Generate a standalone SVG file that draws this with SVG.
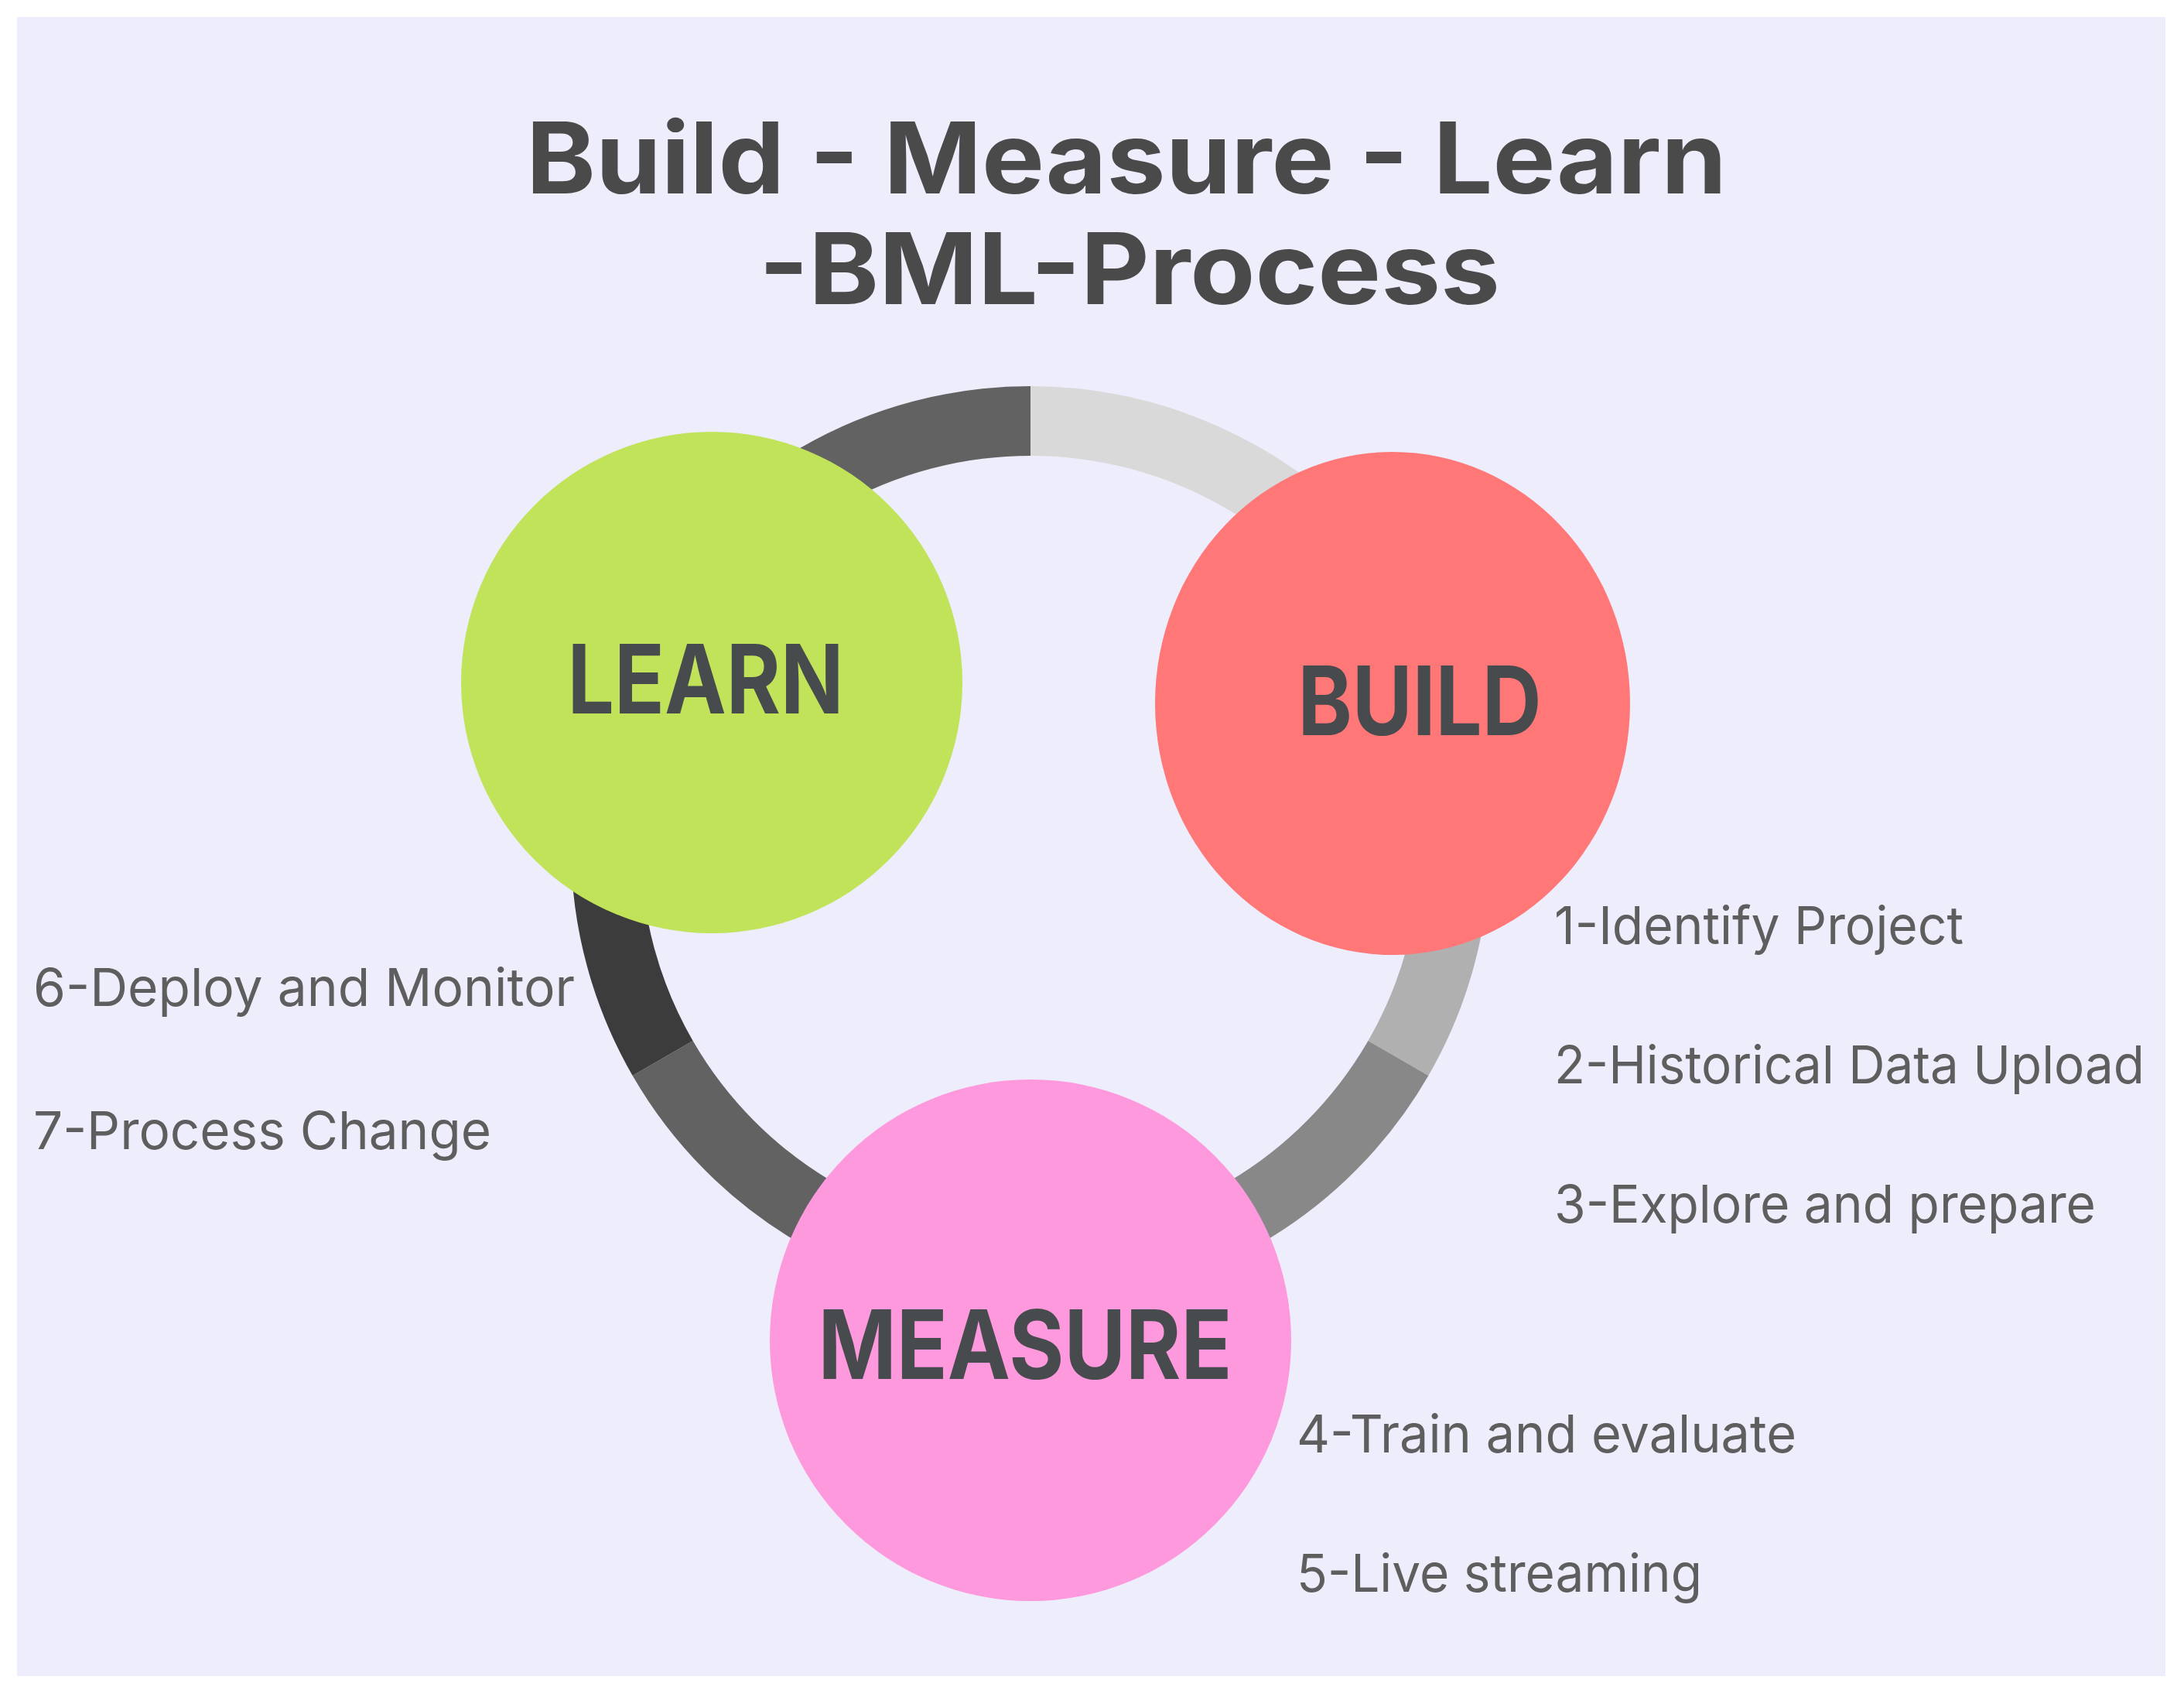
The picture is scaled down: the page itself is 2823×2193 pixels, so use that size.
<svg xmlns="http://www.w3.org/2000/svg" width="2823" height="2193" viewBox="0 0 2823 2193">
<style>
.t{font-family:Inter,"Noto Sans","Liberation Sans",sans-serif;font-weight:700;fill:#4a4a4a}
.n{font-family:Inter,"Noto Sans","Liberation Sans",sans-serif;font-weight:700;fill:#474b4e;text-anchor:middle;font-size:124px}
.l{font-family:Inter,"Noto Sans","Liberation Sans",sans-serif;font-weight:400;fill:#5e5e5e;font-size:68px}
.seg{fill:none;stroke-width:90}
</style>
<rect width="2823" height="2193" fill="#ffffff"/>
<rect x="22" y="22" width="2777" height="2144" fill="#eeedfc"/>
<text class="t" x="1456" y="250" text-anchor="middle" font-size="128" textLength="1552" lengthAdjust="spacingAndGlyphs">Build - Measure - Learn</text>
<text class="t" x="1460" y="393" text-anchor="middle" font-size="128" textLength="958" lengthAdjust="spacingAndGlyphs">-BML-Process</text>
<g id="connectors">
<path class="seg" stroke="#d9d9d9" d="M1332 544 A549 549 0 0 1 1807.4 818.5"/>
<path class="seg" stroke="#b0b0b0" d="M1807.4 818.5 A549 549 0 0 1 1807.4 1367.5"/>
<path class="seg" stroke="#888888" d="M1807.4 1367.5 A549 549 0 0 1 1332 1642"/>
<path class="seg" stroke="#626262" d="M1332 1642 A549 549 0 0 1 856.6 1367.5"/>
<path class="seg" stroke="#3c3c3c" d="M856.6 1367.5 A549 549 0 0 1 856.6 818.5"/>
<path class="seg" stroke="#626262" d="M856.6 818.5 A549 549 0 0 1 1332 544"/>
</g>
<g id="learn">
<circle cx="920" cy="882" r="324" fill="#c0e35a"/>
<text class="n" x="912" y="922" textLength="357" lengthAdjust="spacingAndGlyphs">LEARN</text>
</g>
<g id="build">
<ellipse cx="1800" cy="909" rx="307" ry="325" fill="#ff7777"/>
<text class="n" x="1835" y="950" textLength="315" lengthAdjust="spacingAndGlyphs">BUILD</text>
</g>
<g id="measure">
<circle cx="1332" cy="1732" r="337" fill="#fd99dc"/>
<text class="n" x="1325" y="1782" textLength="535" lengthAdjust="spacingAndGlyphs">MEASURE</text>
</g>
<g id="labels">
<text class="l" x="2009" y="1220" textLength="529" lengthAdjust="spacingAndGlyphs">1-Identify Project</text>
<text class="l" x="2009" y="1400" textLength="763" lengthAdjust="spacingAndGlyphs">2-Historical Data Upload</text>
<text class="l" x="2009" y="1580" textLength="700" lengthAdjust="spacingAndGlyphs">3-Explore and prepare</text>
<text class="l" x="1676" y="1877" textLength="646" lengthAdjust="spacingAndGlyphs">4-Train and evaluate</text>
<text class="l" x="1676" y="2057" textLength="524" lengthAdjust="spacingAndGlyphs">5-Live streaming</text>
<text class="l" x="43" y="1300" textLength="700" lengthAdjust="spacingAndGlyphs">6-Deploy and Monitor</text>
<text class="l" x="43" y="1485" textLength="592" lengthAdjust="spacingAndGlyphs">7-Process Change</text>
</g>
</svg>
